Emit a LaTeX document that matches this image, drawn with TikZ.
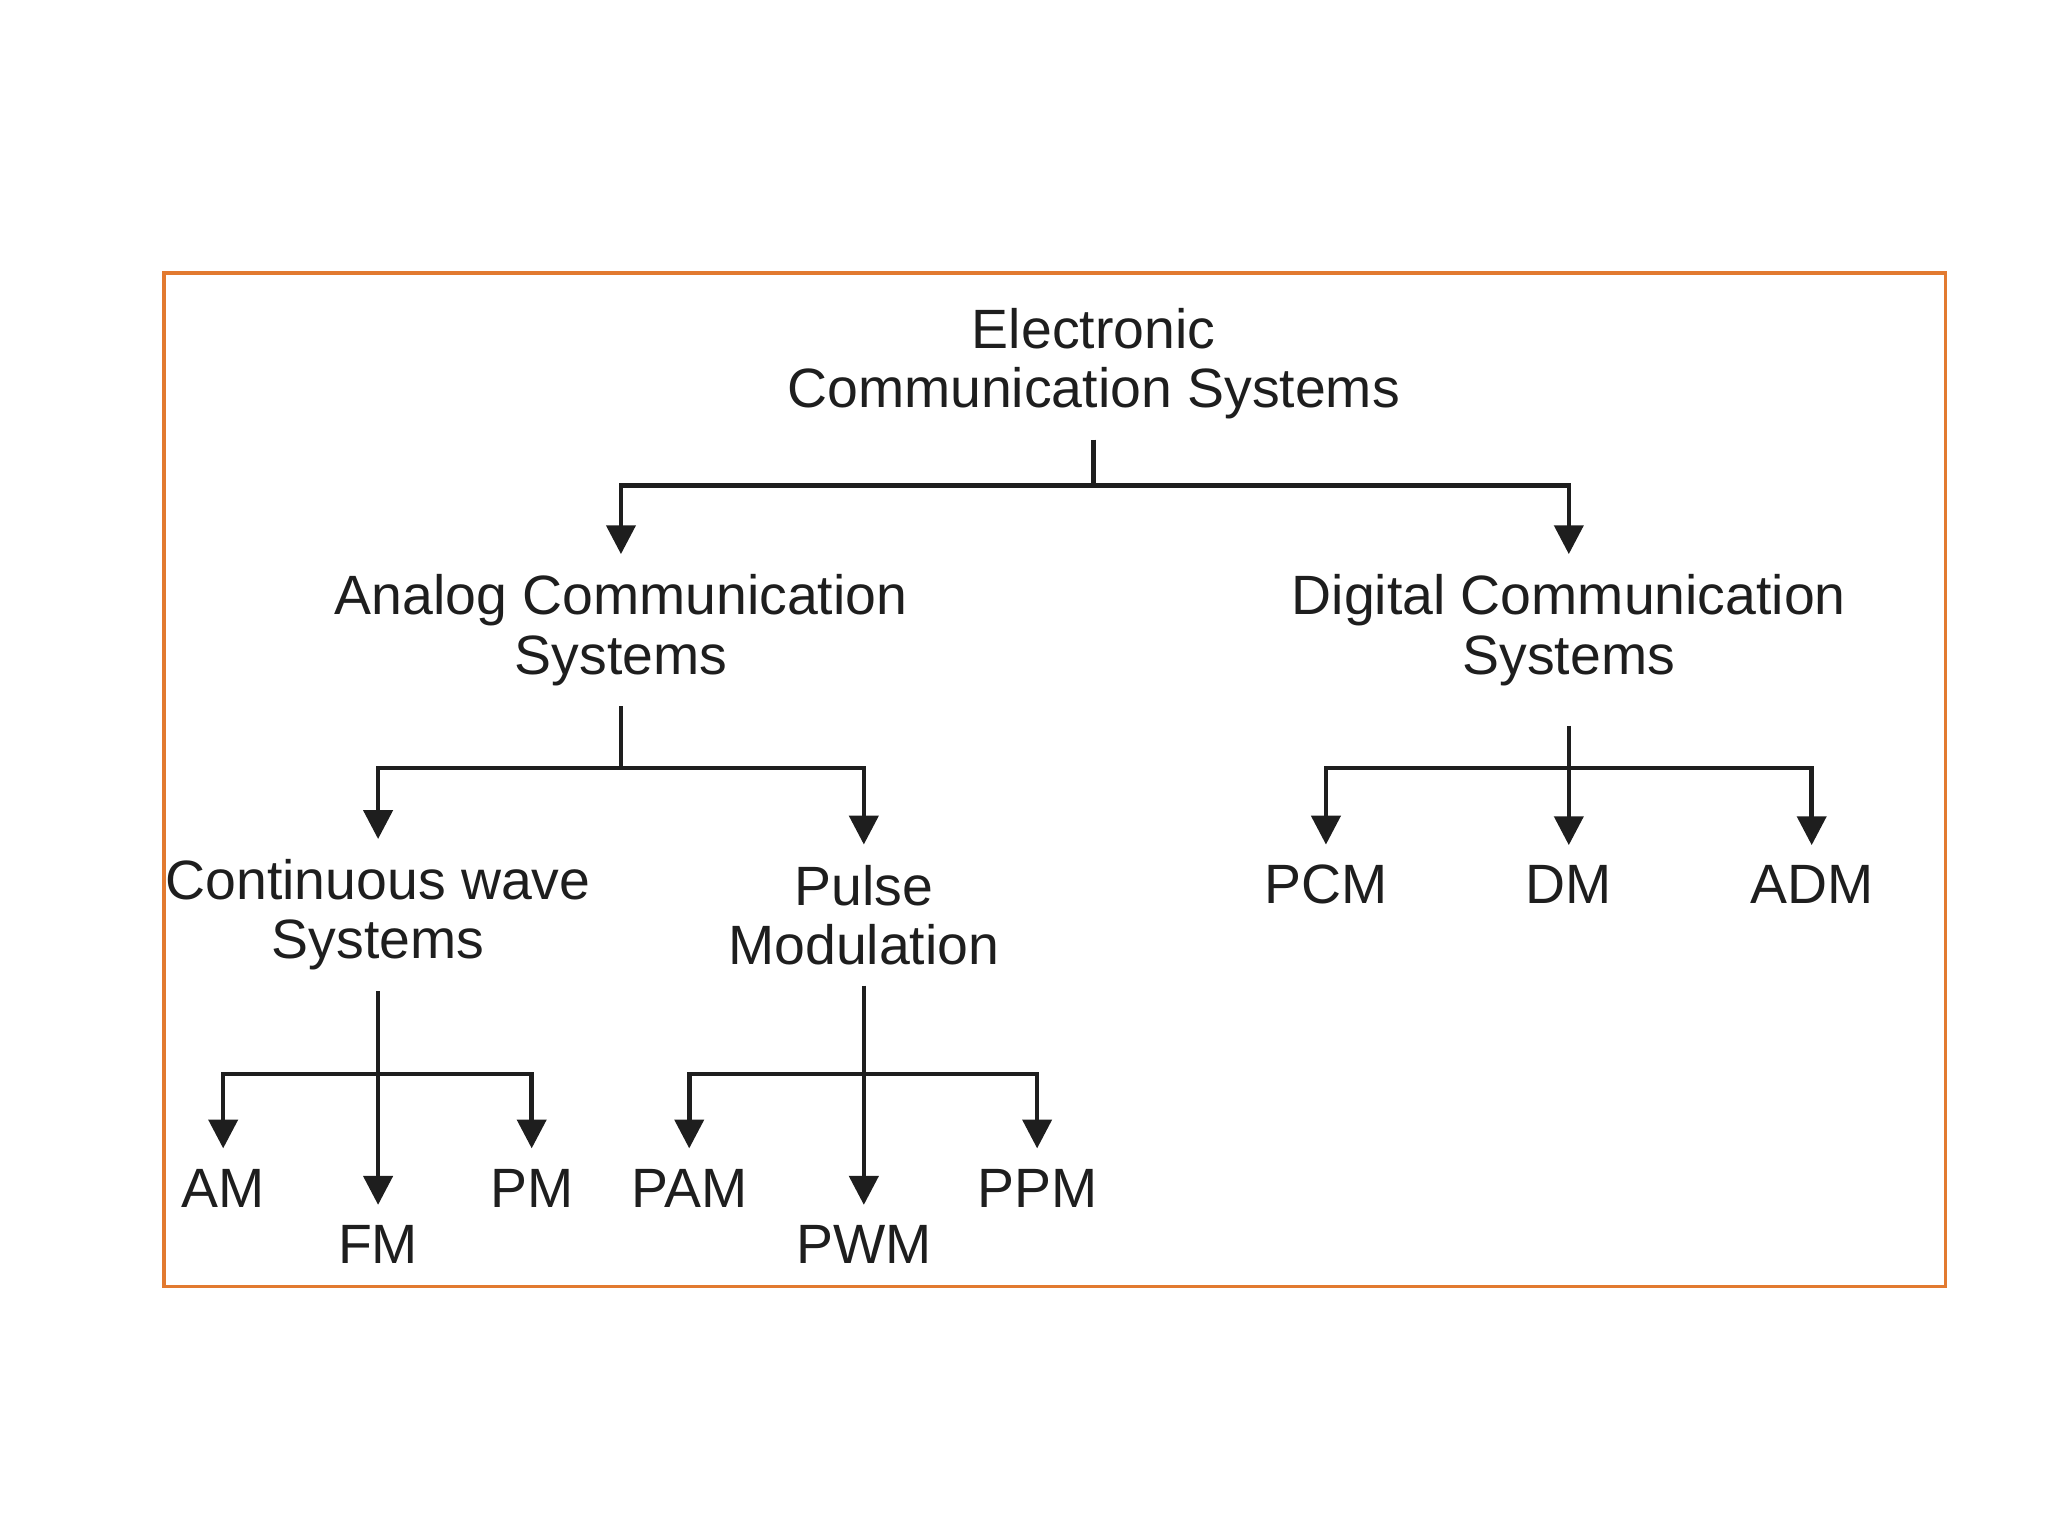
\documentclass[tikz,border=0pt]{standalone}
\usepackage{fontspec}
\setmainfont{Liberation Sans}
\usetikzlibrary{arrows.meta}
\definecolor{frameorange}{RGB}{226,122,48}
\definecolor{ink}{RGB}{30,30,30}

\begin{document}
\begin{tikzpicture}[x=0.01cm,y=-0.01cm,
  lbl/.style={align=center,inner sep=1.5mm,text=ink,font=\fontsize{12}{12.8}\selectfont},
  arr/.style={draw=ink,line width=1pt,-{Triangle[length=2.2mm,width=2.2mm]}},
  bus/.style={draw=ink,line width=1pt}]

  \useasboundingbox (0,0) rectangle (1560,1170);
  \draw[frameorange,line width=0.8pt] (125,208) rectangle (1482,980);

  % levels
  \node[lbl] (ecs) at (833,277) {Electronic\\Communication Systems};
  \node[lbl] (acs) at (473,480) {Analog Communication\\Systems};
  \node[lbl] (dcs) at (1195,480) {Digital Communication\\Systems};
  \node[lbl] (cws) at (288,697) {Continuous wave\\Systems};
  \node[lbl] (pm)  at (658,697) {Pulse\\Modulation};
  \node[lbl] (pcm) at (1010,674) {PCM};
  \node[lbl] (dm)  at (1195,674) {DM};
  \node[lbl] (adm) at (1380,674) {ADM};
  \node[lbl] (am)  at (170,905) {AM};
  \node[lbl] (fm)  at (288,948) {FM};
  \node[lbl] (phm) at (405,905) {PM};
  \node[lbl] (pam) at (525,905) {PAM};
  \node[lbl] (pwm) at (658,948) {PWM};
  \node[lbl] (ppm) at (790,905) {PPM};

  % bus junctions
  \coordinate (jE) at (833,370);
  \coordinate (jA) at (473,585);
  \coordinate (jD) at (1195,585);
  \coordinate (jC) at (288,818);
  \coordinate (jP) at (658,818);
  \coordinate (sD) at (1195,553);

  \draw[bus] (ecs.south) -- (jE);
  \draw[arr] (jE) -| (acs.north);
  \draw[arr] (jE) -| (dcs.north);

  \draw[bus] (acs.south) -- (jA);
  \draw[arr] (jA) -| (cws.north);
  \draw[arr] (jA) -| (pm.north);

  \draw[arr] (sD) -- (dm.north);
  \draw[arr] (jD) -| (pcm.north);
  \draw[arr] (jD) -| (adm.north);

  \draw[arr] (cws.south) -- (fm.north);
  \draw[arr] (jC) -| (am.north);
  \draw[arr] (jC) -| (phm.north);

  \draw[arr] (pm.south) -- (pwm.north);
  \draw[arr] (jP) -| (pam.north);
  \draw[arr] (jP) -| (ppm.north);

\end{tikzpicture}
\end{document}
